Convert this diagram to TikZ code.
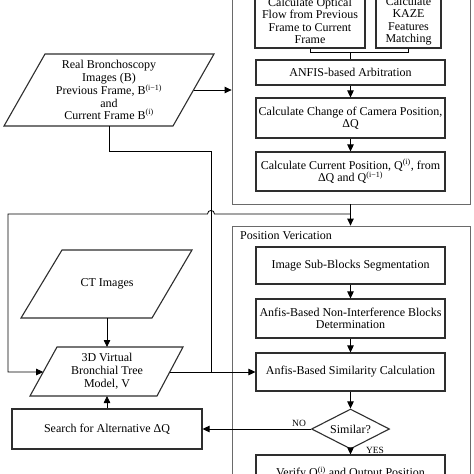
\documentclass[tikz,border=0pt]{standalone}
\usepackage{fontspec}
\setmainfont{Liberation Serif}
\usetikzlibrary{arrows.meta,shapes.geometric,calc}
\definecolor{boxc}{HTML}{2E2E2E}
\definecolor{contc}{HTML}{6A6A6A}
\newcommand\myfnt{\fontsize{12}{12.3}\selectfont}
\newcommand\smfnt{\fontsize{9.5}{10}\selectfont}
\begin{document}
\begin{tikzpicture}[x=1pt,y=-1pt,
 box/.style={draw=boxc,line width=1.1pt,align=center,inner sep=1pt,font=\myfnt},
 cont/.style={draw=contc,line width=0.8pt,inner sep=0pt},
 par/.style={draw=boxc,line width=1.1pt},
 lbl/.style={align=center,font=\myfnt,inner sep=0pt},
 conn/.style={draw=black,line width=0.8pt},
 arr/.style={conn,-{Triangle[length=7pt,width=6.5pt]}}]
\useasboundingbox (0,0) rectangle (474,474);
\fill[white] (0,0) rectangle (474,474);

% containers
\node[cont,minimum width=238pt,minimum height=209pt] (topc) at (351,99.5) {};
\node[cont,minimum width=238pt,minimum height=264pt] (posc) at (351,358) {};
\node[lbl,anchor=west] (ptitle) at (240,236) {Position Verication};

% top boxes
\node[box,minimum width=110pt,minimum height=54pt] (opt) at (310,21) {Calculate Optical\\Flow from Previous\\Frame to Current\\Frame};
\node[box,minimum width=65pt,minimum height=54pt] (kaze) at (408.5,21) {Calculate\\KAZE\\Features\\Matching};
\node[box,minimum width=189pt,minimum height=25pt] (anfis) at (350.5,72.5) {ANFIS-based Arbitration};
\node[box,minimum width=189pt,minimum height=40pt] (chg) at (350.5,118) {Calculate Change of Camera Position,\\ΔQ};
\node[box,minimum width=189pt,minimum height=39pt] (cur) at (350.5,171.5) {Calculate Current Position, Q\textsuperscript{(i)}, from\\ΔQ and Q\textsuperscript{(i−1)}};

% position verification boxes
\node[box,minimum width=189pt,minimum height=37pt] (sub) at (350.5,265.5) {Image Sub-Blocks Segmentation};
\node[box,minimum width=189pt,minimum height=39pt] (nib) at (350.5,318.5) {Anfis-Based Non-Interference Blocks\\Determination};
\node[box,minimum width=189pt,minimum height=38pt] (sim) at (350.5,372) {Anfis-Based Similarity Calculation};
\node[diamond,draw=boxc,line width=1.1pt,minimum width=78pt,minimum height=40pt,aspect=2,inner sep=0pt,font=\myfnt] (dia) at (350.5,429) {Similar?};
\node[box,minimum width=189pt,minimum height=36pt] (ver) at (350.5,473) {Verify Q\textsuperscript{(i)} and Output Position};

% left side parallelograms
\draw[par] (45,54) -- (214,54) -- (173,126) -- (4,126) -- cycle;
\node[lbl] (bronch) at (109,90) {Real Bronchoscopy\\Images (B)\\Previous Frame, B\textsuperscript{(i−1)}\\and\\Current Frame B\textsuperscript{(i)}};
\coordinate (bronchE) at (193.5,90);
\coordinate (bronchS) at (109,126);

\draw[par] (62,250) -- (192,250) -- (152,318) -- (21,318) -- cycle;
\node[lbl] (ct) at (107,284) {CT Images};
\coordinate (ctS) at (107,318);

\draw[par] (57,347) -- (183,347) -- (157,396) -- (30,396) -- cycle;
\node[lbl,font=\fontsize{12}{13}\selectfont] (model) at (107,371.5) {3D Virtual\\Bronchial Tree\\Model, V};
\coordinate (modelN) at (107,347);
\coordinate (modelS) at (107,396);
\coordinate (modelW) at (43.2,372);
\coordinate (modelE) at (169.7,372);

\node[box,minimum width=190pt,minimum height=40pt] (search) at (107,429) {Search for Alternative ΔQ};

% connectors top
\path (opt.south) ++(0,4) coordinate (brk);
\draw[conn] (opt.south) -- (brk) -| (kaze.south);
\draw[conn] (anfis.north |- brk) -- (anfis.north);
\draw[arr] (anfis.south) -- (chg.north);
\draw[arr] (chg.south) -- (cur.north);
\draw[arr] (cur.south |- topc.south) -- (cur.south |- posc.north);

% connectors position verification
\draw[arr] (sub.south) -- (nib.north);
\draw[arr] (nib.south) -- (sim.north);
\draw[arr] (sim.south) -- (dia.north);
\draw[arr] (dia.south) -- (ver.north);
\node[font=\smfnt,inner sep=0pt] (yes) at (375,450) {YES};
\draw[arr] (dia.west) -- (search.east);
\node[font=\smfnt,inner sep=0pt] (no) at (299,423) {NO};

% left connectors
\draw[arr] (bronchE) -- (bronchE -| topc.west);
\coordinate (jn) at (211,372);
\draw[conn] (bronchS) -- ++(0,25) -| (jn);
\draw[arr] (modelE) -- (sim.west);
\draw[arr] (ctS) -- (modelN);
\draw[arr] (search.north) -- (modelS);
\coordinate (qj) at (350.5,214);
\coordinate (lc) at (8,214);
\draw[arr] (qj) -- (214.5,214) .. controls (214.5,209.3) and (207.5,209.3) .. (207.5,214) -- (lc) |- (modelW);
\end{tikzpicture}
\end{document}
